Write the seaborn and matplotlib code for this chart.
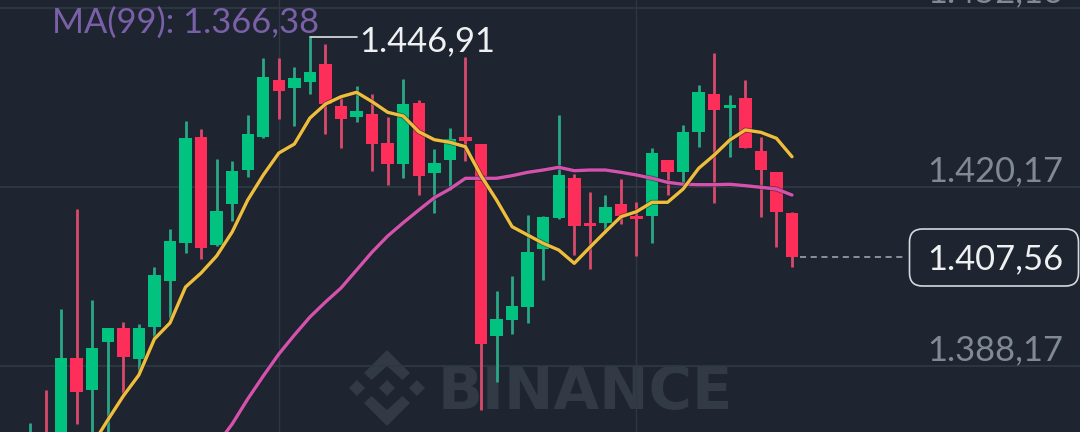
import numpy as np
import pandas as pd
import seaborn as sns
from matplotlib import pyplot as plt
from matplotlib import patheffects as pe
from matplotlib.patches import FancyBboxPatch, Polygon
from matplotlib.transforms import IdentityTransform

# candle values
opens = [1371.35, 1375.82, 1374.03, 1389.59, 1383.92, 1392.45, 1394.95, 1389.36, 1395.19, 1403.36,
         1410.15, 1429.16, 1409.74, 1417.12, 1423.20, 1429.16, 1439.24, 1437.92, 1438.99, 1442.10,
         1434.65, 1432.68, 1433.27, 1428.03, 1424.33, 1435.18, 1422.72, 1425.05, 1429.05, 1427.91,
         1393.47, 1396.33, 1398.76, 1409.03, 1414.57, 1421.77, 1413.78, 1413.73, 1417.12, 1415.03,
         1414.98, 1425.00, 1422.85, 1430.05, 1436.74, 1434.34, 1436.02, 1426.66, 1422.85, 1415.57]
closes = [1374.93, 1372.25, 1389.59, 1383.56, 1391.43, 1395.01, 1389.82, 1394.90, 1404.43, 1410.51,
          1428.93, 1409.26, 1415.93, 1423.08, 1429.59, 1439.83, 1437.28, 1439.60, 1440.73, 1435.00,
          1432.27, 1433.84, 1427.91, 1424.33, 1435.06, 1422.08, 1424.40, 1428.75, 1428.39, 1392.09,
          1396.51, 1398.89, 1408.60, 1414.85, 1422.31, 1413.14, 1413.24, 1416.59, 1415.03, 1414.44,
          1426.30, 1422.85, 1430.05, 1437.10, 1433.88, 1434.88, 1427.14, 1423.20, 1415.75, 1407.56]
highs = [1377.97, 1383.87, 1398.35, 1416.23, 1400.01, 1395.01, 1396.03, 1395.67, 1405.86, 1412.71,
         1431.97, 1430.48, 1425.17, 1424.76, 1433.04, 1443.28, 1443.18, 1441.67, 1446.91, 1445.68,
         1436.02, 1438.22, 1436.79, 1432.73, 1439.42, 1435.72, 1426.91, 1430.77, 1443.35, 1427.91,
         1401.57, 1404.30, 1415.16, 1414.98, 1432.98, 1422.44, 1419.22, 1418.68, 1421.59, 1417.48,
         1427.14, 1425.00, 1431.25, 1438.35, 1444.07, 1436.61, 1439.30, 1429.16, 1422.85, 1415.69]
lows = [1369.56, 1370.46, 1373.14, 1377.79, 1374.03, 1374.03, 1383.39, 1387.27, 1392.99, 1396.80,
        1408.42, 1407.24, 1409.62, 1414.14, 1421.95, 1428.87, 1432.27, 1431.13, 1436.74, 1429.69,
        1427.08, 1431.84, 1422.97, 1420.58, 1421.72, 1418.79, 1415.46, 1419.63, 1424.87, 1380.29,
        1385.35, 1393.88, 1395.79, 1403.54, 1414.53, 1408.01, 1405.45, 1411.99, 1413.60, 1407.83,
        1410.20, 1418.73, 1420.83, 1427.26, 1417.36, 1425.58, 1427.10, 1414.85, 1409.38, 1405.81]

# moving averages, they start off screen
ma7 = [1374.03, 1378.50, 1382.80, 1386.55, 1392.99, 1395.85, 1402.28, 1404.79, 1407.83, 1412.12,
       1417.84, 1422.31, 1426.24, 1427.85, 1432.50, 1435.00, 1436.31, 1437.10, 1435.42, 1433.52,
       1432.86, 1430.05, 1428.62, 1428.16, 1427.37, 1422.19, 1417.84, 1413.07, 1411.58, 1410.10,
       1408.90, 1406.52, 1409.38, 1412.17, 1414.85, 1415.75, 1417.43, 1417.43, 1419.81, 1423.51,
       1425.89, 1428.57, 1430.36, 1429.94, 1428.87, 1425.58]
ma99 = [1374.03, 1377.79, 1382.26, 1386.37, 1390.30, 1393.70, 1396.92, 1399.60, 1402.11, 1405.32,
        1408.54, 1411.40, 1413.78, 1416.05, 1418.25, 1419.81, 1421.72, 1421.72, 1421.72, 1422.19,
        1422.79, 1423.20, 1423.69, 1423.08, 1423.20, 1423.20, 1422.79, 1422.31, 1421.72, 1421.00,
        1420.65, 1420.58, 1420.58, 1420.65, 1420.40, 1420.11, 1419.81, 1418.73]

grid_prices = [1388.17, 1420.17, 1452.17]
grid_labels = ['1.388,17', '1.420,17', '1.452,16']
grid_candles = [16, 39]
top_label = 'MA(99): 1.366,38'
high_label = '1.446,91'
last_label = '1.407,56'
high_price = 1446.91
last_price = 1407.56

BG = '#1e2530'
GREEN = '#02c27f'
RED = '#fe2e5b'
GREEN_WICK = '#2aa886'
RED_WICK = '#d94a6b'
GRID = '#2e3843'
FONT = 'Lato'
FS = 24.8

sns.set_theme(style='dark', rc={'axes.facecolor': BG, 'figure.facecolor': BG})
plt.rcParams['font.family'] = [FONT, 'DejaVu Sans']

df = pd.DataFrame({'open': opens, 'close': closes, 'high': highs, 'low': lows})
df['i'] = df.index
df['up'] = df['close'] >= df['open']

fig = plt.figure(figsize=(10.8, 4.32), dpi=100)
ax = fig.add_axes([0, 0, 1, 1])
ax.set_xlim(-1.93, 67.52)
ax.set_ylim(1376.36, 1453.6)

# watermark sits under the grid
px = IdentityTransform()
wm = '#323a46'
cx, cy = 387, 432 - 388
chevron = np.array([[0, 38], [23, 15], [15.5, 8], [0, 22], [-15.5, 8], [-23, 15]])
ax.add_patch(Polygon(chevron + [cx, cy], color=wm, transform=px, zorder=0, lw=0))
ax.add_patch(Polygon(chevron * [1, -1] + [cx, cy], color=wm, transform=px, zorder=0, lw=0))
for dx in [-30, 0, 30]:
    diamond = np.array([[8, 0], [0, 8], [-8, 0], [0, -8]]) + [cx + dx, cy]
    ax.add_patch(Polygon(diamond, color=wm, transform=px, zorder=0, lw=0))
ax.text(438, 432 - 409, 'BINANCE', color=wm, fontsize=42.6, fontweight='bold', family='DejaVu Sans', transform=px,
        va='baseline', ha='left', zorder=0)

for p in grid_prices:
    ax.axhline(p, color=GRID, lw=1.3, zorder=1)
for c in grid_candles:
    ax.axvline(c, color=GRID, lw=1.0, zorder=1)

# candles
ax.vlines(df['i'], df['low'], df['high'], colors=np.where(df['up'], GREEN_WICK, RED_WICK), lw=2.0, zorder=2)
ax.bar(df['i'], (df['close'] - df['open']).abs(), bottom=df[['open', 'close']].min(axis=1), width=0.8,
       color=np.where(df['up'], GREEN, RED), lw=0, zorder=3)

last = len(df) - 1
glow = [pe.Stroke(linewidth=3.6, foreground='#1a1f20', alpha=0.5), pe.Normal()]
sns.lineplot(x=np.arange(last - len(ma99) + 1, last + 1), y=ma99, color='#d452ad', lw=2.4, ax=ax, zorder=4,
             path_effects=glow, solid_joinstyle='round')
sns.lineplot(x=np.arange(last - len(ma7) + 1, last + 1), y=ma7, color='#efbd3e', lw=2.4, ax=ax, zorder=5,
             path_effects=glow, solid_joinstyle='round')

ax.set_xlabel('')
ax.set_ylabel('')
ax.set_xticks([])
ax.set_yticks([])
for s in ax.spines.values():
    s.set_visible(False)

# price labels
for p, t in zip(grid_prices, grid_labels):
    ax.annotate(t, (1063, p), xycoords=('figure pixels', 'data'), xytext=(0, 4.4), textcoords='offset points',
                ha='right', va='baseline', color='#808a95', fontsize=FS)

ax.text(52, 432 - 33, top_label, color='#7a60a8', fontsize=FS, transform=px, va='baseline', ha='left', zorder=6)

# highest price marker
hi = df['high'].idxmax()
ax.plot([hi, hi + 3], [high_price, high_price], color='#dfe3e6', lw=1.2, zorder=6)
ax.text(359, 432 - 51, high_label, color='#eef0f2', fontsize=FS, transform=px, va='baseline', ha='left', zorder=6)

# last price tag
ax.plot([last + 0.5, last + 7.4], [last_price, last_price], color='#a9afb6', lw=1.1, dashes=(4, 3), zorder=3)
ax.add_patch(FancyBboxPatch((909.5, 432 - 286), 169, 57, boxstyle='round,pad=0,rounding_size=13', transform=px,
                            fc=BG, ec='#d5d9de', lw=1.2, zorder=6))
ax.text(1063, 432 - 269.5, last_label, color='#eef0f2', fontsize=FS, transform=px, va='baseline', ha='right', zorder=7)

fig.savefig('out.png', dpi=100, facecolor=BG)
